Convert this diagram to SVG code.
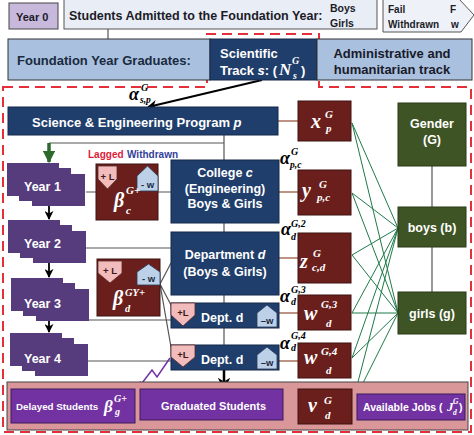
<svg xmlns="http://www.w3.org/2000/svg" width="474" height="435" viewBox="0 0 474 435">
<defs>
<style>
.t{font-family:"Liberation Sans",Arial,sans-serif;font-weight:bold}
.m{font-family:"Liberation Serif","Times New Roman",serif;font-style:italic;font-weight:bold}
.w{fill:#fff}
.dk{fill:#1c1c28}
.nv{fill:#1f3e6c;stroke:#15284a;stroke-width:1}
.mr{fill:#6a1f1c;stroke:#3e1210;stroke-width:1}
.ol{fill:#3f5425;stroke:#2a3818;stroke-width:1}
.yr{fill:#563c7d}
.pu{fill:#7232a2;stroke:#3d1a5a;stroke-width:1}
.lb{fill:#a9c1df;stroke:#333;stroke-width:1}
.pl{fill:#f2bcbc;stroke:#5a2a2a;stroke-width:0.8}
.hw{fill:#bcd0e8;stroke:#2a3a5a;stroke-width:0.8}
.g{stroke:#555;stroke-width:1.2;fill:none}
.br{stroke:#a8705a;stroke-width:1.3;fill:none}
.gr{stroke:#1f7a48;stroke-width:1;fill:none}
.c{text-anchor:middle}
</style>
<marker id="ab" viewBox="0 0 10 10" refX="9" refY="5" markerWidth="5" markerHeight="5" orient="auto"><path d="M0,0 L10,5 L0,10 L3,5 Z" fill="#000"/></marker>
<marker id="ag" viewBox="0 0 10 10" refX="9" refY="5" markerWidth="3.5" markerHeight="3.5" orient="auto"><path d="M0,0 L10,5 L0,10 Z" fill="#2c6a2c"/></marker>
<marker id="ap" viewBox="0 0 10 10" refX="9" refY="5" markerWidth="4" markerHeight="4" orient="auto"><path d="M0,0 L10,5 L0,10 Z" fill="#7232a2"/></marker>
</defs>
<rect width="474" height="435" fill="#fff"/>

<!-- big dashed outline -->
<path d="M3,87 H207 V34 H319 V87 H471 V432 H3 Z" fill="none" stroke="#e5303c" stroke-width="2" stroke-dasharray="10,6"/>

<g id="connectors">
<line class="g" x1="108" y1="29" x2="108" y2="39"/>
<line x1="262" y1="80" x2="148" y2="107" stroke="#000" stroke-width="2" marker-end="url(#ab)"/>
<path class="g" d="M224,135 V160 M49,143 H224 M224,223 V232 M224,295 V303 M224,328 V345 M432,166 V207 M432,247 V292"/>
<line x1="49" y1="143" x2="49" y2="162" stroke="#2c6a2c" stroke-width="3.5" marker-end="url(#ag)"/>
<line x1="49" y1="206" x2="49" y2="219" stroke="#000" stroke-width="1.8" marker-end="url(#ab)"/>
<line x1="49" y1="263" x2="49" y2="277" stroke="#000" stroke-width="1.8" marker-end="url(#ab)"/>
<line x1="49" y1="321" x2="49" y2="332" stroke="#000" stroke-width="1.8" marker-end="url(#ab)"/>
<path class="g" d="M86,192 H96 M158,192 H171 M86,248 H171 M89,320 H171 M87,361 H171"/>
<path class="g" stroke-width="1" d="M160,284 L171,263 M160,284 L171,305 M160,284 L171,347"/>
<line x1="224" y1="370" x2="224" y2="389" stroke="#000" stroke-width="2.5" marker-end="url(#ab)"/>
<path class="br" d="M278,121 H298 M279,192 H298 M279,258 H298 M279,313 H298 M279,361 H298 M283,407 H298"/>
<path class="gr" d="M352,123 L398,228 M352,123 L398,313 M352,193 L398,228 M352,193 L398,313 M352,255 L398,228 M352,255 L398,313 M352,313 L398,228 M352,313 L398,313 M352,358 L398,228 M352,358 L398,313 M352,405 L398,228 M352,405 L398,313"/>
<path d="M170,358 L157,377 L152,370 L139,387" fill="none" stroke="#7232a2" stroke-width="1.5" marker-end="url(#ap)"/>
</g>

<g id="year0">
<rect x="9" y="3" width="49" height="26" fill="#c8b8dc" stroke="#444"/>
<text class="t dk" x="16" y="21" font-size="11">Year 0</text>
</g>
<g id="admitted">
<rect x="64" y="-1" width="313" height="30" fill="#e9edf6" stroke="#555"/>
<text class="t dk" x="69" y="20" font-size="12.5">Students Admitted to the Foundation Year:</text>
<text class="t dk" x="330" y="12" font-size="10.5">Boys</text>
<text class="t dk" x="330" y="27" font-size="10.5">Girls</text>
</g>
<g id="failwithdrawn">
<path d="M383,-1 H459 L474,15 L461,32 H383 Z" fill="#eef1f7" stroke="#555"/>
<text class="t dk" x="388" y="13" font-size="10">Fail</text>
<text class="t dk" x="450" y="13" font-size="10">F</text>
<text class="t dk" x="388" y="28" font-size="10">Withdrawn</text>
<text class="t dk" x="451" y="28" font-size="10">w</text>
</g>
<g id="foundation">
<rect class="lb" x="8" y="39" width="202" height="41"/>
<text class="t" x="17" y="65" font-size="13" fill="#1a2a40">Foundation Year Graduates:</text>
</g>
<g id="scientific">
<rect class="nv" x="210" y="39" width="107" height="41"/>
<text class="t w" x="220" y="58" font-size="13">Scientific</text>
<text class="t w" x="220" y="75" font-size="13">Track <tspan font-style="italic">s</tspan>: (</text>
<text class="m w" x="279" y="75" font-size="17">N</text>
<text class="m w" x="292" y="64" font-size="10">G</text>
<text class="m w" x="293" y="79" font-size="10">s</text>
<text class="t w" x="301" y="75" font-size="13">)</text>
</g>
<g id="admin">
<rect class="lb" x="317" y="39" width="155" height="41" fill="#abc3e0"/>
<text class="t c" x="392" y="58" font-size="13" fill="#1a1a2a">Administrative and</text>
<text class="t c" x="392" y="74" font-size="13" fill="#1a1a2a">humanitarian track</text>
</g>
<g id="alpha-sp">
<text class="m" x="129" y="100" font-size="18" fill="#000">α</text>
<text class="m" x="141" y="91" font-size="10" fill="#000">G</text>
<text class="m" x="140" y="103" font-size="9.5" fill="#000">s,p</text>
</g>
<g id="program">
<rect class="nv" x="8" y="107" width="270" height="28"/>
<text class="t w" x="32" y="127" font-size="13">Science &amp; Engineering Program <tspan font-style="italic">p</tspan></text>
</g>

<g id="year1">
<rect class="yr" x="7" y="163" width="52" height="33"/><rect class="yr" x="19" y="168" width="52" height="33"/><rect class="yr" x="32" y="174" width="53" height="32"/>
<text class="t w" x="24" y="191" font-size="12.5">Year 1</text>
</g>
<g id="year2">
<rect class="yr" x="8" y="220" width="52" height="33"/><rect class="yr" x="20" y="225" width="52" height="33"/><rect class="yr" x="33" y="231" width="53" height="32"/>
<text class="t w" x="24" y="248" font-size="12.5">Year 2</text>
</g>
<g id="year3">
<rect class="yr" x="11" y="278" width="52" height="33"/><rect class="yr" x="23" y="283" width="52" height="33"/><rect class="yr" x="36" y="289" width="53" height="32"/>
<text class="t w" x="24" y="308" font-size="12.5">Year 3</text>
</g>
<g id="year4">
<rect class="yr" x="10" y="333" width="52" height="33"/><rect class="yr" x="22" y="338" width="52" height="33"/><rect class="yr" x="35" y="344" width="53" height="32"/>
<text class="t w" x="24" y="363" font-size="12.5">Year 4</text>
</g>

<g id="legend">
<text class="t" x="88" y="158" font-size="10" fill="#e0203a">Lagged</text>
<text class="t" x="127" y="158" font-size="10" fill="#34409a">Withdrawn</text>
</g>
<g id="beta-c">
<rect class="mr" x="96" y="164" width="62" height="56"/>
<path class="pl" d="M98,166 H117 V179 L107.5,189 L98,179 Z"/>
<text class="t c" x="107.5" y="180" font-size="9.5" fill="#3a1a1a">+ L</text>
<path class="hw" d="M137,191 V176 L147.5,166 L158,176 V191 Z"/>
<text class="t c" x="147.5" y="188" font-size="9.5" fill="#1a2a44">- w</text>
<text class="m w" x="114" y="207" font-size="20">β</text>
<text class="m w" x="126" y="194" font-size="11">G+</text>
<text class="m w" x="126" y="214" font-size="11">c</text>
</g>
<g id="college">
<rect class="nv" x="171" y="160" width="108" height="63"/>
<text class="t w c" x="225" y="177" font-size="12.5">College <tspan font-style="italic">c</tspan></text>
<text class="t w c" x="225" y="193" font-size="12.5">(Engineering)</text>
<text class="t w c" x="225" y="208" font-size="12.5">Boys &amp; Girls</text>
</g>
<g id="alpha-pc">
<text class="m" x="280" y="164" font-size="18" fill="#000">α</text>
<text class="m" x="291" y="155" font-size="10" fill="#000">G</text>
<text class="m" x="290" y="168" font-size="9.5" fill="#000">p,c</text>
</g>
<g id="department">
<rect class="nv" x="171" y="232" width="108" height="63"/>
<text class="t w c" x="225" y="259" font-size="12.5">Department <tspan font-style="italic">d</tspan></text>
<text class="t w c" x="225" y="276" font-size="12.5">(Boys &amp; Girls)</text>
</g>
<g id="alpha-d2">
<text class="m" x="281" y="235" font-size="18" fill="#000">α</text>
<text class="m" x="291" y="227" font-size="10" fill="#000">G,2</text>
<text class="m" x="291" y="240" font-size="10" fill="#000">d</text>
</g>
<g id="beta-d">
<rect class="mr" x="97" y="259" width="63" height="57"/>
<path class="pl" d="M98,261 H122 V273 L110,283 L98,273 Z"/>
<text class="t c" x="110" y="274" font-size="9.5" fill="#3a1a1a">+ L</text>
<path class="hw" d="M137,285 V272 L148.5,264 L160,272 V285 Z"/>
<text class="t c" x="148.5" y="282" font-size="9.5" fill="#1a2a44">- w</text>
<text class="m w" x="113" y="305" font-size="20">β</text>
<text class="m w" x="125" y="296" font-size="10.5">GY+</text>
<text class="m w" x="125" y="312" font-size="10.5">d</text>
</g>
<g id="dept3">
<rect class="nv" x="171" y="303" width="108" height="25"/>
<path class="pl" d="M171,303 H195 V315 L183,326 L171,315 Z"/>
<text class="t c" x="183" y="316" font-size="9.5" fill="#3a1a1a">+L</text>
<text class="t w" x="201" y="322" font-size="12.5">Dept. d</text>
<path class="hw" d="M257,327 V313 L267,305 L277,313 V327 Z"/>
<text class="t c" x="267" y="324" font-size="9.5" fill="#1a2a44">–w</text>
</g>
<g id="alpha-d3">
<text class="m" x="280" y="302" font-size="18" fill="#000">α</text>
<text class="m" x="291" y="293" font-size="10" fill="#000">G,3</text>
<text class="m" x="291" y="305" font-size="10" fill="#000">d</text>
</g>
<g id="dept4">
<rect class="nv" x="171" y="345" width="108" height="25"/>
<path class="pl" d="M171,345 H195 V357 L183,367 L171,357 Z"/>
<text class="t c" x="183" y="358" font-size="9.5" fill="#3a1a1a">+L</text>
<text class="t w" x="201" y="364" font-size="12.5">Dept. d</text>
<path class="hw" d="M257,369 V355 L267,347 L277,355 V369 Z"/>
<text class="t c" x="267" y="366" font-size="9.5" fill="#1a2a44">–w</text>
</g>
<g id="alpha-d4">
<text class="m" x="280" y="349" font-size="18" fill="#000">α</text>
<text class="m" x="291" y="339" font-size="10" fill="#000">G,4</text>
<text class="m" x="291" y="351" font-size="10" fill="#000">d</text>
</g>

<g id="x-var">
<rect class="mr" x="298" y="101" width="53" height="40"/>
<text class="m w" x="311" y="128" font-size="20">x</text>
<text class="m w" x="325" y="118" font-size="11">G</text>
<text class="m w" x="326" y="132" font-size="11">p</text>
</g>
<g id="y-var">
<rect class="mr" x="298" y="170" width="53" height="45"/>
<text class="m w" x="302" y="197" font-size="20">y</text>
<text class="m w" x="319" y="188" font-size="11">G</text>
<text class="m w" x="317" y="201" font-size="11">p,c</text>
</g>
<g id="z-var">
<rect class="mr" x="298" y="233" width="53" height="50"/>
<text class="m w" x="300" y="268" font-size="20">z</text>
<text class="m w" x="313" y="257" font-size="11">G</text>
<text class="m w" x="312" y="271" font-size="11">c,d</text>
</g>
<g id="w3-var">
<rect class="mr" x="298" y="295" width="53" height="35"/>
<text class="m w" x="304" y="320" font-size="20">w</text>
<text class="m w" x="321" y="308" font-size="11">G,3</text>
<text class="m w" x="326" y="327" font-size="11">d</text>
</g>
<g id="w4-var">
<rect class="mr" x="298" y="343" width="53" height="35"/>
<text class="m w" x="304" y="364" font-size="20">w</text>
<text class="m w" x="321" y="355" font-size="11">G,4</text>
<text class="m w" x="326" y="374" font-size="11">d</text>
</g>

<g id="gender">
<rect class="ol" x="398" y="103" width="68" height="63"/>
<text class="t w c" x="432" y="128" font-size="12.5">Gender</text>
<text class="t w c" x="432" y="144" font-size="12.5">(G)</text>
</g>
<g id="boys">
<rect class="ol" x="398" y="207" width="68" height="40"/>
<text class="t w c" x="432" y="232" font-size="12.5">boys (b)</text>
</g>
<g id="girls">
<rect class="ol" x="398" y="292" width="68" height="42"/>
<text class="t w c" x="432" y="318" font-size="12.5">girls (g)</text>
</g>

<g id="outcomes">
<rect x="7" y="382" width="461" height="48" fill="#d9979a" stroke="#444"/>
</g>
<g id="delayed">
<rect class="pu" x="11" y="389" width="124" height="34"/>
<text class="t w" x="16" y="410" font-size="9.8">Delayed Students</text>
<text class="m w" x="104" y="412" font-size="17">β</text>
<text class="m w" x="114" y="402" font-size="10">G+</text>
<text class="m w" x="115" y="415" font-size="10">g</text>
</g>
<g id="graduated">
<rect class="pu" x="140" y="389" width="143" height="31"/>
<text class="t w" x="161" y="410" font-size="11">Graduated Students</text>
</g>
<g id="v-var">
<rect class="mr" x="298" y="389" width="54" height="35"/>
<text class="m w" x="308" y="412" font-size="20">v</text>
<text class="m w" x="324" y="404" font-size="11">G</text>
<text class="m w" x="325" y="419" font-size="11">d</text>
</g>
<g id="jobs">
<rect class="pu" x="357" y="394" width="108" height="26"/>
<text class="t w" x="363" y="411" font-size="10.5">Available Jobs (</text>
<text class="m w" x="447" y="411" font-size="13">J</text>
<text class="m w" x="453" y="404" font-size="7.5">G</text>
<text class="m w" x="453" y="415" font-size="7.5">d</text>
<text class="t w" x="459" y="411" font-size="10.5">)</text>
</g>
</svg>
